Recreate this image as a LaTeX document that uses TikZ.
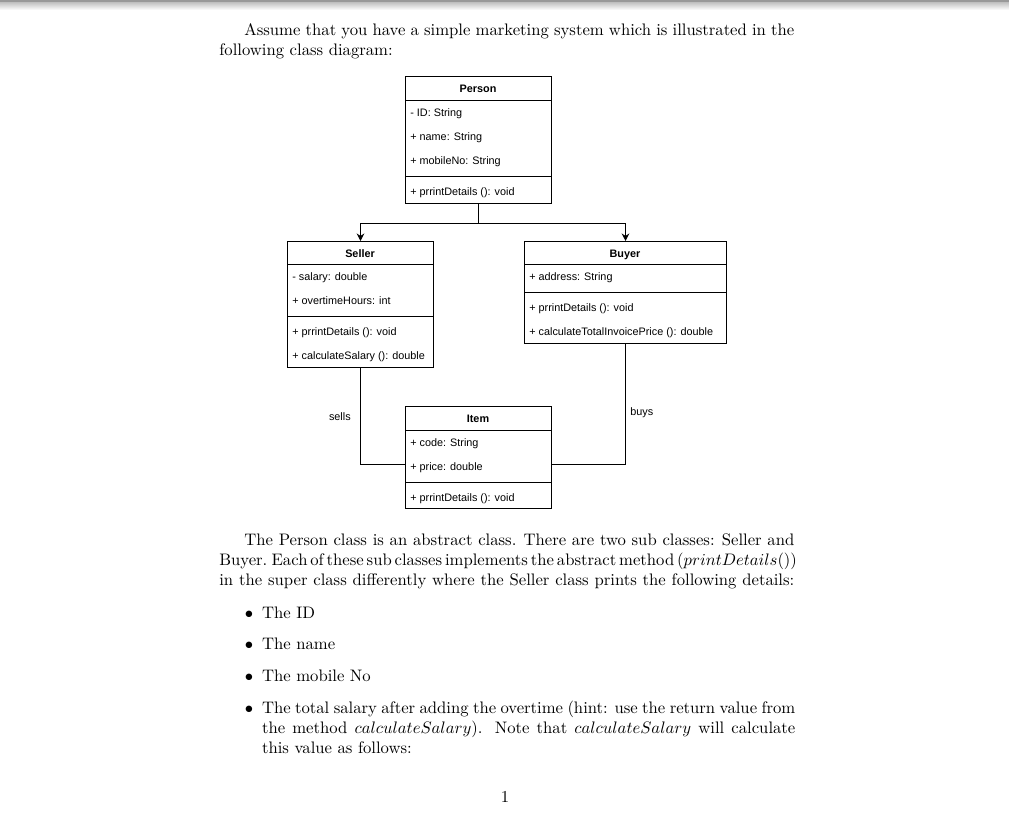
\documentclass[tikz,border=0pt]{standalone}
\usepackage{fontspec}
\newfontfamily\umlfont{Liberation Sans}
\usetikzlibrary{arrows.meta}

\begin{document}
\begin{tikzpicture}[x=0.6pt, y=-0.6pt,
    classbox/.style={draw, line width=0.6pt, inner sep=0pt, anchor=north west},
    classtitle/.style={font=\umlfont\fontsize{6.5}{7.8}\selectfont\bfseries, inner sep=0pt, anchor=base},
    member/.style={font=\umlfont\fontsize{6.5}{7.8}\selectfont, inner sep=0pt, anchor=base west},
    link/.style={line width=0.6pt},
    inherit/.style={link, -{Stealth[length=4.5pt, width=4.5pt]}},
    para/.style={text width=345pt, align=justify, inner sep=0pt, anchor=base west},
    point/.style={inner sep=0pt, anchor=base west},
    dot/.style={inner sep=0pt, anchor=base east},
    ]

    \useasboundingbox (0,0) rectangle (1009,834);
    \fill[white] (0,0) rectangle (1009,834);

    % page edge
    \fill[black!40] (0,0) rectangle (1009,2);
    \shade[top color=black!25, bottom color=white] (0,2) rectangle (1009,10);

    \node[para] (intro) at (219,35) {\hspace*{15pt}Assume that you have a simple marketing system which is illustrated in the following class diagram:};

    % Person
    \node[classbox, minimum width=146*0.6pt, minimum height=127*0.6pt] (person) at (405,76) {};
    \node[classtitle] (person-name) at (478,92) {Person};
    \draw (405,100) -- (551,100);
    \node[member] (person-id) at (410,116) {- ID: String};
    \node[member] (person-nm) at (410,140) {+ name: String};
    \node[member] (person-mob) at (410,164) {+ mobileNo: String};
    \draw (405,176) -- (551,176);
    \node[member] (person-print) at (410,195) {+ prrintDetails (): void};

    % Seller
    \node[classbox, minimum width=146*0.6pt, minimum height=126*0.6pt] (seller) at (287,241) {};
    \node[classtitle] (seller-name) at (360,257) {Seller};
    \draw (287,264) -- (433,264);
    \node[member] (seller-sal) at (292,280) {- salary: double};
    \node[member] (seller-ot) at (292,304) {+ overtimeHours: int};
    \draw (287,316) -- (433,316);
    \node[member] (seller-print) at (292,335) {+ prrintDetails (): void};
    \node[member] (seller-calc) at (292,359) {+ calculateSalary (): double};

    % Buyer
    \node[classbox, minimum width=202*0.6pt, minimum height=102*0.6pt] (buyer) at (524,241) {};
    \node[classtitle] (buyer-name) at (625,257) {Buyer};
    \draw (524,264) -- (726,264);
    \node[member] (buyer-addr) at (529,280) {+ address: String};
    \draw (524,292) -- (726,292);
    \node[member] (buyer-print) at (529,311) {+ prrintDetails (): void};
    \node[member] (buyer-calc) at (529,335) {+ calculateTotalInvoicePrice (): double};

    % Item
    \node[classbox, minimum width=146*0.6pt, minimum height=102*0.6pt] (item) at (405,406) {};
    \node[classtitle] (item-name) at (478,422) {Item};
    \draw (405,430) -- (551,430);
    \node[member] (item-code) at (410,446) {+ code: String};
    \node[member] (item-price) at (410,470) {+ price: double};
    \draw (405,482) -- (551,482);
    \node[member] (item-print) at (410,501) {+ prrintDetails (): void};

    % links
    \draw[inherit] (person.south) -- ++(0,19) -| (seller.north);
    \draw[inherit] (person.south) -- ++(0,19) -| (buyer.north);
    \draw[link] (seller.south) |- ([yshift=-4.2pt]item.west);
    \draw[link] (buyer.south) |- ([yshift=-4.2pt]item.east);
    \node[member, anchor=base east] (sells) at (351,420) {sells};
    \node[member] (buys) at (630,415) {buys};

    \node[para] (desc) at (219,545) {\spaceskip=3.33pt plus 2pt minus 1.6pt\xspaceskip=4.2pt plus 2pt minus 1.6pt
      \hspace*{15pt}\makebox[330pt][s]{The Person class is an abstract class. There are two sub classes: Seller and}\\
      \makebox[345pt][s]{Buyer. Each of these sub classes implements the abstract method ($printDetails()$)}\\
      \makebox[345pt][s]{in the super class differently where the Seller class prints the following details:}};

    \node[dot] (dot-id) at (253.5,618) {$\bullet$};
    \node[point] (point-id) at (261.7,618) {The ID};
    \node[dot] (dot-name) at (253.5,649) {$\bullet$};
    \node[point] (point-name) at (261.7,649) {The name};
    \node[dot] (dot-mob) at (253.5,681) {$\bullet$};
    \node[point] (point-mob) at (261.7,681) {The mobile No};
    \node[dot] (dot-sal) at (253.5,713) {$\bullet$};
    \node[para, text width=320pt] (point-sal) at (261.7,713) {The total salary after adding the overtime (hint: use the return value from the method $calculateSalary$). Note that $calculateSalary$ will calculate this value as follows:};

    \node[inner sep=0pt, anchor=base] (page) at (505,802) {1};

\end{tikzpicture}
\end{document}
